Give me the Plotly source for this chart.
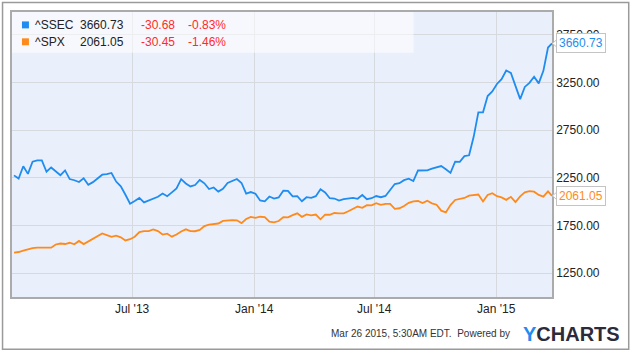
import pandas as pd
import plotly.graph_objects as go

# ---- data (weekly closes) ----
ssec_2013 = [2276, 2243, 2372, 2292, 2419, 2433, 2433, 2314, 2359, 2319, 2278, 2328, 2237,
             2225, 2206, 2245, 2177, 2205, 2247, 2283, 2288, 2301, 2211, 2162, 2073, 1979,
             2007, 2039, 1992, 2010, 2029, 2052, 2085, 2057, 2098, 2139, 2236, 2191, 2160,
             2175, 2228, 2193, 2133, 2149, 2106, 2135, 2197, 2220, 2238, 2196, 2085, 2101]
ssec_2014 = [2083, 2013, 2004, 2054, 2033, 2044, 2115, 2113, 2056, 2057, 2004, 2047, 2041,
             2058, 2130, 2097, 2036, 2033, 2011, 2026, 2034, 2039, 2030, 2070, 2026, 2036,
             2059, 2047, 2060, 2127, 2185, 2194, 2226, 2241, 2217, 2327, 2331, 2329, 2347,
             2364, 2374, 2341, 2302, 2420, 2418, 2478, 2487, 2683, 2937, 2938, 3108, 3157]
ssec_2015 = [3235, 3285, 3376, 3351, 3210, 3076, 3204, 3247, 3310, 3241, 3373, 3617, 3660.73]

spx_2013 = [1466, 1472, 1486, 1503, 1513, 1518, 1520, 1516, 1518, 1551, 1561, 1556, 1569,
            1553, 1588, 1555, 1582, 1614, 1633, 1667, 1650, 1631, 1643, 1626, 1593, 1606,
            1632, 1680, 1692, 1691, 1709, 1691, 1655, 1664, 1633, 1655, 1688, 1710, 1692,
            1690, 1703, 1744, 1759, 1762, 1771, 1798, 1804, 1806, 1805, 1775, 1818, 1841]
spx_2014 = [1831, 1842, 1839, 1790, 1783, 1797, 1838, 1836, 1859, 1878, 1841, 1866, 1857,
            1865, 1815, 1864, 1863, 1881, 1878, 1878, 1900, 1924, 1949, 1936, 1963, 1961,
            1985, 1967, 1978, 1978, 1925, 1931, 1955, 1988, 2003, 2007, 1985, 2010, 1982,
            1968, 1906, 1887, 1964, 2018, 2032, 2039, 2064, 2068, 2075, 2002, 2071, 2089]
spx_2015 = [2058, 2045, 2019, 2051, 1995, 2055, 2097, 2110, 2105, 2071, 2053, 2108, 2061.05]

dates = list(pd.date_range("2013-01-04", "2015-03-20", freq="W-FRI")) + [pd.Timestamp("2015-03-26")]
ssec = ssec_2013 + ssec_2014 + ssec_2015
spx = spx_2013 + spx_2014 + spx_2015
assert len(dates) == len(ssec) == len(spx)

y_ticks = [1250, 1750, 2250, 2750, 3250, 3750]
x_ticks = ["2013-07-01", "2014-01-01", "2014-07-01", "2015-01-01"]
x_labels = ["Jul '13", "Jan '14", "Jul '14", "Jan '15"]

legend_rows = [
    ("^SSEC", "3660.73", "-30.68", "-0.83%", "#1e8cf0"),
    ("^SPX", "2061.05", "-30.45", "-1.46%", "#ff8a1c"),
]

BLUE = "#1e8cf0"
ORANGE = "#ff8a1c"
FONT = "Liberation Sans, Arial, sans-serif"

fig = go.Figure()
fig.add_trace(go.Scatter(x=dates, y=ssec, mode="lines", line=dict(color=BLUE, width=1.8),
                         name="^SSEC", hoverinfo="skip"))
fig.add_trace(go.Scatter(x=dates, y=spx, mode="lines", line=dict(color=ORANGE, width=1.8),
                         name="^SPX", hoverinfo="skip"))

W, H = 630, 351
L, R, T, B = 10, 78, 10, 54
pw, ph = W - L - R, H - T - B
Y0, Y1 = 1000, 3990


def px(x):
    return (x - L) / pw


def py(y):
    return (H - B - y) / ph


shapes = []
annotations = []

# outer frame
shapes.append(dict(type="rect", xref="paper", yref="paper", x0=px(0.5), x1=px(629), y0=py(0.5), y1=py(349.5),
                   line=dict(color="#9a9a9a", width=1.5), layer="below"))
# legend backdrop
shapes.append(dict(type="rect", xref="paper", yref="paper", x0=0, x1=px(413), y0=py(51), y1=1,
                   fillcolor="rgba(255,255,255,0.55)", line=dict(width=0), layer="above"))

row_y = [23, 40]
for (name, val, chg, pct, col), ry in zip(legend_rows, row_y):
    shapes.append(dict(type="rect", xref="paper", yref="paper", x0=px(20), x1=px(27),
                       y0=py(ry + 3.5), y1=py(ry - 3.5), fillcolor=col, line=dict(width=0), layer="above"))
    for text, xx, c in [(name, 31, "#222222"), (val, 76, "#222222"), (chg, 137, "#ff2a2a"), (pct, 185, "#ff2a2a")]:
        annotations.append(dict(xref="paper", yref="paper", x=px(xx), y=py(ry), text=text, showarrow=False,
                                xanchor="left", yanchor="middle", font=dict(family=FONT, size=12, color=c)))

# last value tags with small pointer
units_per_px = (Y1 - Y0) / ph
for val, col in [(ssec[-1], BLUE), (spx[-1], ORANGE)]:
    annotations.append(dict(xref="paper", yref="y", x=1, y=val, xshift=4, text=f"{val:.2f}", showarrow=False,
                            xanchor="left", yanchor="middle", bgcolor="white", bordercolor="#c4c4c4",
                            borderwidth=1, borderpad=2, font=dict(family=FONT, size=12, color=col)))
    d = 4 * units_per_px
    xa, xb = 1 + 0.5 / pw, 1 + 5 / pw
    shapes.append(dict(type="path", xref="paper", yref="y",
                       path=f"M {xa},{val} L {xb},{val + d} L {xb},{val - d} Z",
                       fillcolor="white", line=dict(color="#c4c4c4", width=1), layer="above"))

# footer
annotations.append(dict(xref="paper", yref="paper", x=px(512), y=py(334), text="Mar 26 2015, 5:30AM EDT.  Powered by",
                        showarrow=False, xanchor="right", yanchor="middle",
                        font=dict(family=FONT, size=10, color="#333333")))
annotations.append(dict(xref="paper", yref="paper", x=px(521), y=py(334),
                        text="<span style='color:#1e8cf0'>Y</span>CHARTS",
                        showarrow=False, xanchor="left", yanchor="middle",
                        font=dict(family=FONT, size=20, color="#2b2b3a", weight="bold")))

fig.update_layout(
    width=W, height=H,
    margin=dict(l=L, r=R, t=T, b=B, pad=0),
    paper_bgcolor="white",
    plot_bgcolor="#eaf0fb",
    showlegend=False,
    shapes=shapes,
    annotations=annotations,
    font=dict(family=FONT, size=12, color="#333333"),
)
fig.update_xaxes(range=["2013-01-01", "2015-03-26"], tickvals=x_ticks, ticktext=x_labels,
                 showgrid=True, gridcolor="#d6d9de", gridwidth=1, zeroline=False,
                 showline=True, linecolor="#ababab", linewidth=1.5, mirror=True, ticks="",
                 tickfont=dict(family=FONT, size=12, color="#222222"))
fig.update_yaxes(range=[Y0, Y1], side="right", tickvals=y_ticks, tickformat=".2f",
                 showgrid=True, gridcolor="#d6d9de", gridwidth=1, zeroline=False,
                 showline=True, linecolor="#ababab", linewidth=1.5, mirror=True, ticks="",
                 tickfont=dict(family=FONT, size=12, color="#222222"))

fig.write_html("out.html")
